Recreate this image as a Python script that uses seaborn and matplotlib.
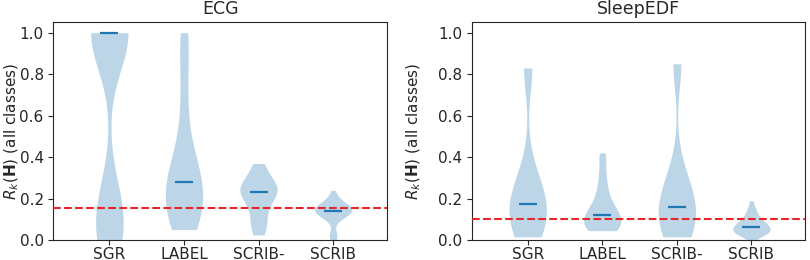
import matplotlib
matplotlib.use("Agg")
import matplotlib.pyplot as plt
import numpy as np
import pandas as pd
import seaborn as sns

sns.set_style("ticks")
plt.rcParams['font.family'] = ['DejaVu Sans']
plt.rcParams['font.size'] = 11

methods = ["SGR", "LABEL", "SCRIB-", "SCRIB"]

# ECG: R_k(H) values and how many times each was seen
ecg_sgr_vals = [0.0, 0.04, 0.08, 0.12, 0.16, 0.2, 0.26, 1.0]
ecg_sgr_counts = [12, 8, 8, 8, 6, 4, 2, 60]
ecg_label_vals = [0.05, 0.07, 0.1, 0.13, 0.16, 0.19, 0.22, 0.25, 0.28, 0.31, 0.34, 0.37, 0.41,
                  0.45, 0.49, 0.55, 0.6, 0.66, 0.72, 0.78, 0.84, 0.9, 0.95, 1.0]
ecg_label_counts = [3, 3, 3, 3, 3, 3, 3, 3, 3, 3, 3, 2, 2, 1, 1, 1, 1, 1, 1, 1, 1, 1, 1, 3]
ecg_scribm_vals = [0.024, 0.05, 0.08, 0.11, 0.14, 0.17, 0.2, 0.22, 0.24, 0.26, 0.28, 0.31, 0.34, 0.369]
ecg_scribm_counts = [2, 2, 2, 2, 2, 2, 3, 3, 5, 4, 3, 2, 2, 2]
ecg_scrib_vals = [0.0, 0.02, 0.03, 0.1, 0.12, 0.13, 0.14, 0.15, 0.16, 0.17, 0.19, 0.21, 0.24]
ecg_scrib_counts = [1, 2, 1, 2, 3, 3, 4, 4, 3, 3, 2, 1, 1]
ecg_baseline = 0.152

# SleepEDF
sleep_sgr_vals = [0.015, 0.04, 0.07, 0.1, 0.13, 0.16, 0.19, 0.22, 0.25, 0.28, 0.32, 0.36, 0.42, 0.83]
sleep_sgr_counts = [6, 3, 4, 4, 4, 4, 4, 4, 3, 3, 2, 1, 1, 7]
sleep_label_vals = [0.045, 0.06, 0.08, 0.1, 0.12, 0.14, 0.16, 0.18, 0.21, 0.24, 0.27, 0.3, 0.34, 0.38, 0.42]
sleep_label_counts = [4, 6, 6, 5, 4, 3, 3, 2, 2, 2, 1, 2, 1, 1, 3]
sleep_scribm_vals = [0.015, 0.04, 0.07, 0.1, 0.13, 0.16, 0.19, 0.22, 0.25, 0.28, 0.32, 0.36, 0.42, 0.85]
sleep_scribm_counts = [7, 4, 4, 4, 4, 4, 4, 4, 3, 3, 2, 1, 1, 7]
sleep_scrib_vals = [0.0, 0.03, 0.04, 0.05, 0.06, 0.07, 0.08, 0.09, 0.1, 0.12, 0.14, 0.16, 0.19]
sleep_scrib_counts = [1, 5, 5, 2, 3, 3, 3, 2, 2, 2, 2, 1, 1]
sleep_baseline = 0.10


def make_frame(groups):
    rows = []
    for name, (vals, counts) in zip(methods, groups):
        for v in np.repeat(vals, counts):
            rows.append({"method": name, "R": v})
    return pd.DataFrame(rows)


ecg = make_frame([(ecg_sgr_vals, ecg_sgr_counts), (ecg_label_vals, ecg_label_counts),
                  (ecg_scribm_vals, ecg_scribm_counts), (ecg_scrib_vals, ecg_scrib_counts)])
sleep = make_frame([(sleep_sgr_vals, sleep_sgr_counts), (sleep_label_vals, sleep_label_counts),
                    (sleep_scribm_vals, sleep_scribm_counts), (sleep_scrib_vals, sleep_scrib_counts)])

fig, axes = plt.subplots(1, 2, figsize=(8.1, 2.6), dpi=100)
plt.subplots_adjust(left=0.066, right=0.994, bottom=0.077, top=0.914, wspace=0.255)

for ax, data, title, base, lab_x in zip(axes, [ecg, sleep], ["ECG", "SleepEDF"],
                                        [ecg_baseline, sleep_baseline], [-0.097, -0.145]):
    sns.violinplot(data=data, x="method", y="R", order=methods, ax=ax, color="#bcd6e8",
                   saturation=1, inner=None, cut=0, width=0.5, density_norm="width", linewidth=0)
    sns.pointplot(data=data, x="method", y="R", order=methods, ax=ax, estimator="median",
                  errorbar=None, linestyle="none", marker="_", markersize=13,
                  markeredgewidth=1.6, color="#1f77b4")
    ax.axhline(base, color="#e8262a", linestyle="--", linewidth=1.5, zorder=5)
    ax.set_xlim(-0.75, 3.72)
    ax.set_ylim(0, 1.05)
    ax.set_yticks([0.0, 0.2, 0.4, 0.6, 0.8, 1.0])
    ax.tick_params(axis="x", pad=1.5)
    ax.set_xlabel("")
    ax.set_ylabel(r"$R_k(\mathbf{H})$ (all classes)")
    ax.yaxis.set_label_coords(lab_x, 0.5)
    ax.set_title(title, fontsize=12.5)

fig.savefig("out.png", dpi=100)
